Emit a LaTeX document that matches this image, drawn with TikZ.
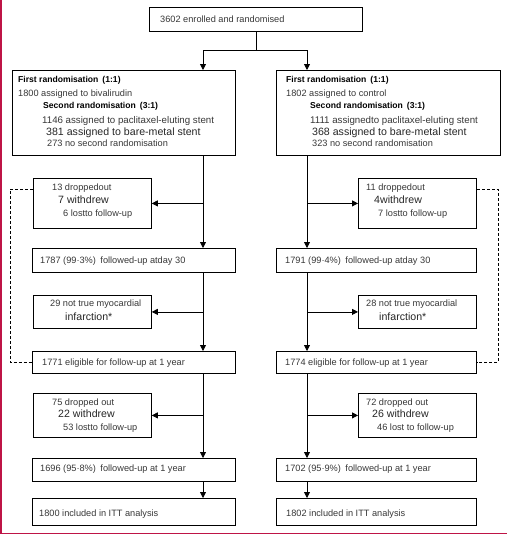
\documentclass[tikz,border=0pt]{standalone}
\usepackage{fontspec}
\setmainfont{Liberation Sans}
\usetikzlibrary{arrows.meta,calc}
\definecolor{framecol}{RGB}{190,20,70}
\definecolor{txt}{RGB}{55,55,55}
\newcommand\mybox[5]{\node[box, minimum width=#4pt, minimum height=#5pt] (#1) at (#2,#3) {};}
\begin{document}
\begin{tikzpicture}[x=1pt,y=-1pt,
  box/.style={draw, line width=0.8pt, inner sep=0pt, anchor=north west},
  t/.style={anchor=west, inner sep=0pt, text height=6.6pt, text depth=0pt, font=\fontsize{9.2}{11}\selectfont, text=txt},
  tw/.style={t, font=\fontsize{9.7}{11}\selectfont},
  tb/.style={t, font=\fontsize{8.6}{11}\selectfont\bfseries, text=black},
  tl/.style={t, font=\fontsize{10.6}{12}\selectfont, text=black!85, text height=7.6pt},
  conn/.style={line width=0.8pt},
  arr/.style={conn, -{Triangle[length=6pt,width=6pt]}},
  dashline/.style={line width=0.6pt, dash pattern=on 3pt off 2pt}
]
\useasboundingbox (0,0) rectangle (507,536);
% frame
\draw[framecol, line width=1.5pt] (0.75,0) -- (0.75,533.5) -- (507,533.5);
% boxes
\mybox{top}{149}{7}{213}{24}
\mybox{L1}{12}{70}{223}{85}
\mybox{R1}{276}{70}{224}{85}
\mybox{LD1}{33}{178}{118}{50}
\mybox{RD1}{358}{178}{118}{50}
\mybox{L2}{32}{248}{203}{24}
\mybox{R2}{276}{248}{200}{24}
\mybox{LM}{33}{295}{118}{33}
\mybox{RM}{358}{295}{118}{33}
\mybox{L3}{32}{351}{203}{22}
\mybox{R3}{276}{351}{200}{22}
\mybox{LD2}{33}{393}{118}{44}
\mybox{RD2}{358}{393}{118}{44}
\mybox{L4}{32}{458}{203}{23}
\mybox{R4}{276}{458}{200}{23}
\mybox{L5}{32}{498}{203}{27}
\mybox{R5}{276}{498}{200}{27}
% texts
\node[t] (ttop) at (160,19) {3602 enrolled and randomised};
\node[tb] (l1a) at (18,79) {First randomisation\hspace{4pt}(1:1)};
\node[t]  (l1b) at (18,93) {1800 assigned to bivalirudin};
\node[tb] (l1c) at (43,105) {Second randomisation\hspace{4pt}(3:1)};
\node[tw] (l1d) at (42,120) {1146 assigned to paclitaxel-eluting stent};
\node[tl] (l1e) at (46,132) {381 assigned to bare-metal stent};
\node[t]  (l1f) at (47,143) {273 no second randomisation};
\node[tb] (r1a) at (286,79) {First randomisation\hspace{4pt}(1:1)};
\node[t]  (r1b) at (286,93) {1802 assigned to control};
\node[tb] (r1c) at (310,105) {Second randomisation\hspace{4pt}(3:1)};
\node[tw] (r1d) at (310,120) {1111 assignedto paclitaxel-eluting stent};
\node[tl] (r1e) at (312,132) {368 assigned to bare-metal stent};
\node[t]  (r1f) at (312,143) {323 no second randomisation};
\node[t]  (ld1a) at (52,187) {13 droppedout};
\node[tl] (ld1b) at (58,200) {7 withdrew};
\node[t]  (ld1c) at (63,213) {6 lostto follow-up};
\node[t]  (rd1a) at (366,187) {11 droppedout};
\node[tl] (rd1b) at (374,200) {4withdrew};
\node[t]  (rd1c) at (378,213) {7 lostto follow-up};
\node[t]  (l2t) at (40,260) {1787 (99·3\%)\hspace{2pt} followed-up atday 30};
\node[t]  (r2t) at (285,260) {1791 (99·4\%)\hspace{2pt} followed-up atday 30};
\node[t]  (lma) at (50,303) {29 not true myocardial};
\node[tl] (lmb) at (65,317) {infarction*};
\node[t]  (rma) at (366,303) {28 not true myocardial};
\node[tl] (rmb) at (379,317) {infarction*};
\node[t]  (l3t) at (42,362) {1771 eligible for follow-up at 1 year};
\node[t]  (r3t) at (285,362) {1774 eligible for follow-up at 1 year};
\node[t]  (ld2a) at (52,402) {75 dropped out};
\node[tl] (ld2b) at (58,414) {22 withdrew};
\node[t]  (ld2c) at (63,427) {53 lostto follow-up};
\node[t]  (rd2a) at (366,402) {72 dropped out};
\node[tl] (rd2b) at (372,414) {26 withdrew};
\node[t]  (rd2c) at (377,427) {46 lost to follow-up};
\node[t]  (l4t) at (40,468) {1696 (95·8\%)\hspace{2pt} followed-up at 1 year};
\node[t]  (r4t) at (285,468) {1702 (95·9\%)\hspace{2pt} followed-up at 1 year};
\node[t]  (l5t) at (39,513) {1800 included in ITT analysis};
\node[t]  (r5t) at (286,513) {1802 included in ITT analysis};
% trunk coordinates
\coordinate (lx) at (203,50);
\coordinate (rx) at (307,50);
% connectors
\draw[conn] (top.south) -- (top.south |- lx);
\draw[arr] (top.south |- lx) -| (lx |- L1.north);
\draw[arr] (top.south |- rx) -| (rx |- R1.north);
\draw[arr] (lx |- L1.south) -- (lx |- L2.north);
\draw[arr] (lx |- LD1.east) -- (LD1.east);
\draw[arr] (lx |- L2.south) -- (lx |- L3.north);
\draw[arr] (lx |- LM.east) -- (LM.east);
\draw[arr] (lx |- L3.south) -- (lx |- L4.north);
\draw[arr] (lx |- LD2.east) -- (LD2.east);
\draw[arr] (lx |- L4.south) -- (lx |- L5.north);
\draw[arr] (rx |- R1.south) -- (rx |- R2.north);
\draw[arr] (rx |- RD1.west) -- (RD1.west);
\draw[arr] (rx |- R2.south) -- (rx |- R3.north);
\draw[arr] (rx |- RM.west) -- (RM.west);
\draw[arr] (rx |- R3.south) -- (rx |- R4.north);
\draw[arr] (rx |- RD2.west) -- (RD2.west);
\draw[arr] (rx |- R4.south) -- (rx |- R5.north);
% dashed loops
\draw[dashline] ($(LD1.north west)+(0,11)$) -- ++(-23,0) |- (L3.west);
\draw[dashline] ($(RD1.north east)+(0,11)$) -- ++(21,0) |- (R3.east);
\end{tikzpicture}
\end{document}
